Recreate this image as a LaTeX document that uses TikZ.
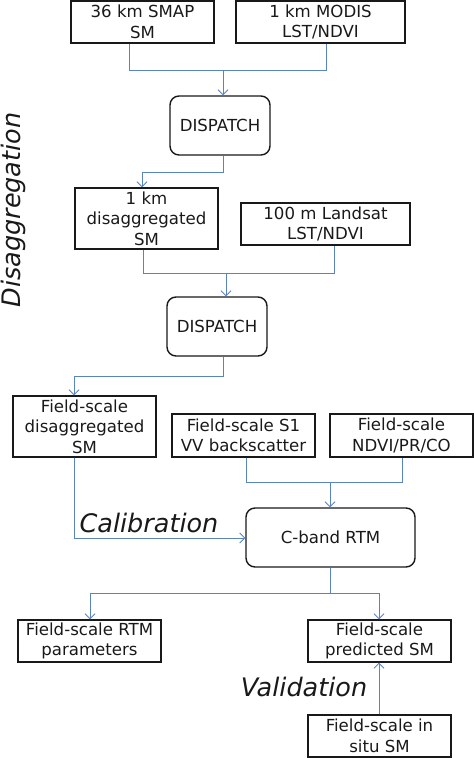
\documentclass[tikz,border=0pt]{standalone}
\usepackage{fontspec}
\setmainfont{DejaVu Sans}
\usetikzlibrary{arrows.meta}
\definecolor{lnblue}{RGB}{88,132,192}
\begin{document}
\begin{tikzpicture}[x=1pt,y=-1pt,
  box/.style={draw=black!90,line width=1.4pt,inner sep=0pt,align=center,
    font=\fontsize{16.6}{20.5}\selectfont,text=black!90},
  rbox/.style={box,rounded corners=9pt},
  ln/.style={draw=lnblue,line width=0.9pt},
  arr/.style={ln,-{Straight Barb[length=5pt,width=10pt,line width=0.9pt]}},
  lab/.style={font=\fontsize{25.5}{30}\selectfont\itshape,text=black!90,inner sep=0pt}]
\useasboundingbox (0,0) rectangle (474,758);
% nodes
\node[box,minimum width=143pt,minimum height=42pt] (smap) at (142.5,22) {36 km SMAP\\SM};
\node[box,minimum width=169pt,minimum height=42pt] (modis) at (320.5,22) {1 km MODIS\\LST/NDVI};
\node[rbox,minimum width=100pt,minimum height=59pt] (d1) at (220,125.5) {DISPATCH};
\node[box,minimum width=143pt,minimum height=61pt] (km1) at (146.5,218.5) {1 km\\disaggregated\\SM};
\node[box,minimum width=169pt,minimum height=42pt] (landsat) at (325.5,224) {100 m Landsat\\LST/NDVI};
\node[rbox,minimum width=100pt,minimum height=59pt] (d2) at (217,326.5) {DISPATCH};
\node[box,minimum width=143pt,minimum height=61pt] (fsd) at (84.5,426.5) {Field-scale\\disaggregated\\SM};
\node[box,minimum width=143pt,minimum height=43pt] (s1) at (243.5,435.5) {Field-scale S1\\VV backscatter};
\node[box,minimum width=143pt,minimum height=43pt] (ndvi) at (401.5,435.5) {Field-scale\\NDVI/PR/CO};
\node[rbox,minimum width=169pt,minimum height=59pt] (rtm) at (330.5,537.5) {C-band RTM};
\node[box,minimum width=143pt,minimum height=42pt] (par) at (89.5,641) {Field-scale RTM\\parameters};
\node[box,minimum width=143pt,minimum height=42pt] (pred) at (379.5,641) {Field-scale\\predicted SM};
\node[box,minimum width=143pt,minimum height=42pt] (insitu) at (379.5,736) {Field-scale in\\situ SM};
% labels
\node[lab,rotate=90] (disagg) at (13,210) {Disaggregation};
\node[lab] (calib) at (149,523) {Calibration};
\node[lab] (valid) at (304,687) {Validation};
% junction coordinates
\coordinate (m1) at (129,70); \coordinate (m2) at (326,70); \coordinate (m3) at (223,70);
\coordinate (n1) at (223,172); \coordinate (n2) at (142,172);
\coordinate (p1) at (143,273); \coordinate (p2) at (334,273); \coordinate (p3) at (226,273);
\coordinate (q1) at (223,376); \coordinate (q2) at (74,376);
\coordinate (r1) at (246,482); \coordinate (r2) at (402,482); \coordinate (r3) at (330,482);
\coordinate (s0) at (74,538);
\coordinate (t0) at (330,593); \coordinate (t1) at (90,593); \coordinate (t2) at (379,593);
% connectors
\draw[ln] (smap.south -| m1) -- (m1) -- (m2) -- (modis.south -| m2);
\draw[arr] (m3) -- (d1.north -| m3);
\draw[arr] (d1.south -| n1) -- (n1) -- (n2) -- (km1.north -| n2);
\draw[ln] (km1.south -| p1) -- (p1) -- (p2) -- (landsat.south -| p2);
\draw[arr] (p3) -- (d2.north -| p3);
\draw[arr] (d2.south -| q1) -- (q1) -- (q2) -- (fsd.north -| q2);
\draw[ln] (s1.south -| r1) -- (r1) -- (r2) -- (ndvi.south -| r2);
\draw[arr] (r3) -- (rtm.north -| r3);
\draw[arr] (fsd.south -| s0) -- (s0) -- (rtm.west |- s0);
\draw[ln] (rtm.south -| t0) -- (t0);
\draw[ln] (t1) -- (t2);
\draw[arr] (t1) -- (par.north -| t1);
\draw[arr] (t2) -- (pred.north -| t2);
\draw[arr] (insitu.north -| t2) -- (pred.south -| t2);
\end{tikzpicture}
\end{document}
